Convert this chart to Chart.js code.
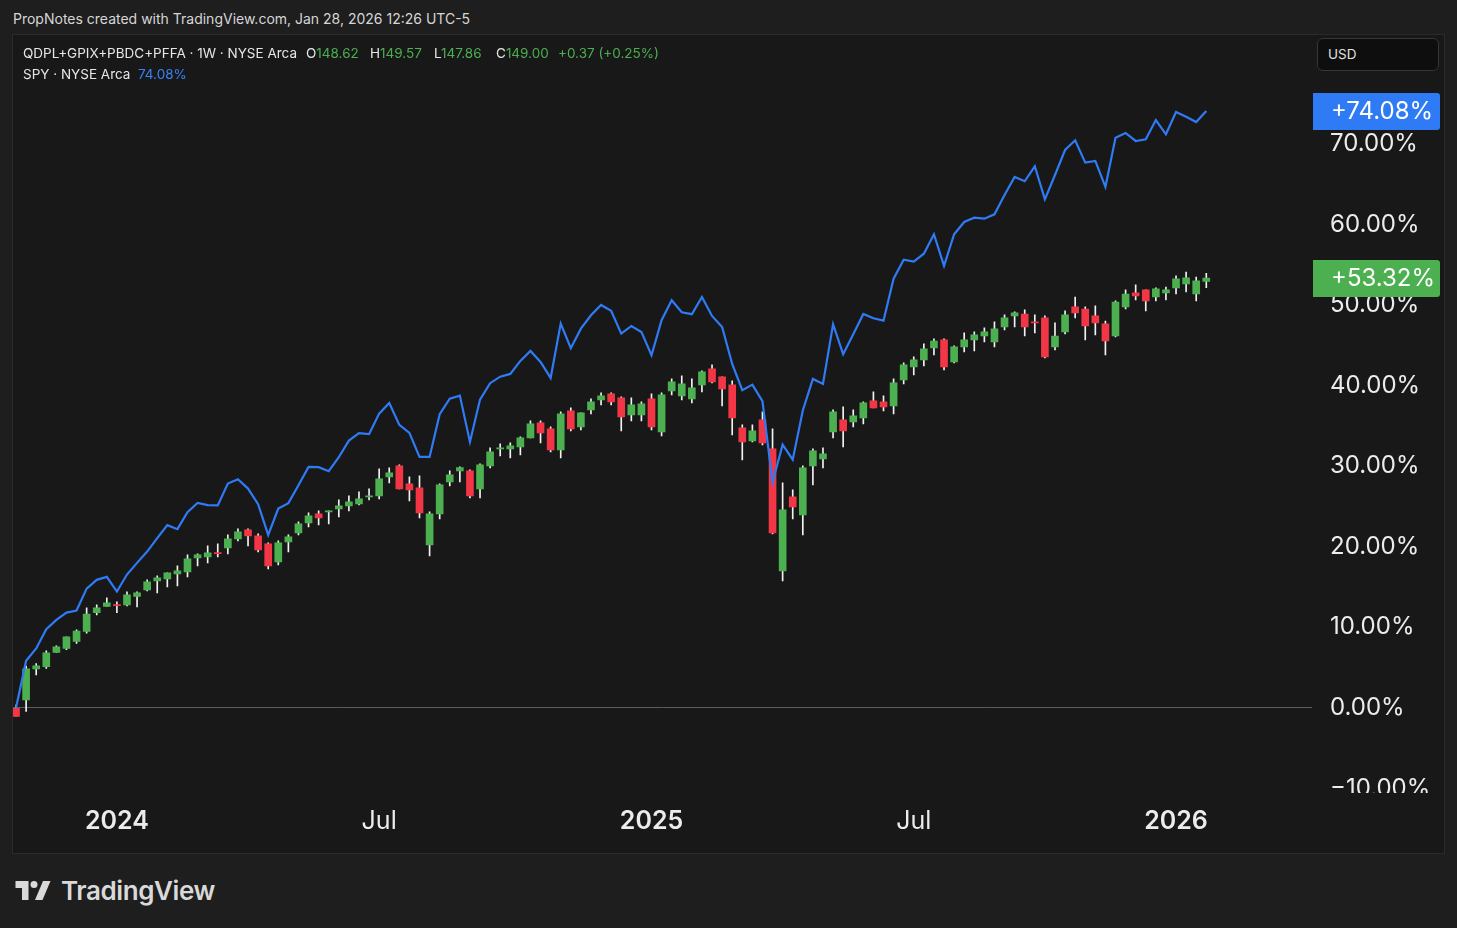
<!DOCTYPE html>
<html lang="en">
<head>
<meta charset="UTF-8">
<title>QDPL+GPIX+PBDC+PFFA vs SPY</title>
<style>
  html, body { margin: 0; padding: 0; width: 1457px; height: 928px; overflow: hidden; background: #1e1e1e; font-family: Inter, Roboto, sans-serif; }
  #caption { position: absolute; left: 13px; top: 10px; font-size: 14px; color: #d6d6d6; white-space: nowrap; }
  #frame { position: absolute; left: 12px; top: 34px; width: 1431px; height: 818px; background: #181818; border: 1px solid #2b2b2b; }
  #wrap { position: absolute; left: 13px; top: 35px; width: 1430px; height: 817px; }
  .lg { position: absolute; font-size: 13.5px; color: #e6e6e6; white-space: nowrap; line-height: 16px; }
  .g { color: #4caf50; }
  .b { color: #3a82f6; }
  #usd { position: absolute; left: 1317px; top: 38px; width: 122px; height: 33px; background: #0e0e0e; border: 1px solid #363636; border-radius: 6px; color: #e0e0e0; font-size: 13.5px; line-height: 31px; padding-left: 10px; box-sizing: border-box; }
  #brand { position: absolute; left: 15px; top: 876px; height: 28px; display: flex; align-items: center; color: #d9d9d9; font-size: 26px; font-weight: 600; letter-spacing: -0.4px; }
  #brand svg { margin-right: 9px; }
</style>
</head>
<body>
<script src="https://cdn.jsdelivr.net/npm/chart.js@4.4.0/dist/chart.umd.min.js"></script>

<div id="caption">PropNotes created with TradingView.com, Jan 28, 2026 12:26 UTC-5</div>
<div id="frame"></div>
<div id="wrap"><canvas id="chart" width="1430" height="817"></canvas></div>

<div class="lg" style="left:23px; top:45px;">QDPL+GPIX+PBDC+PFFA · 1W · NYSE Arca</div>
<div class="lg" style="left:306px; top:45px;">O<span class="g">148.62</span></div>
<div class="lg" style="left:370px; top:45px;">H<span class="g">149.57</span></div>
<div class="lg" style="left:434px; top:45px;">L<span class="g">147.86</span></div>
<div class="lg" style="left:496px; top:45px;">C<span class="g">149.00</span></div>
<div class="lg g" style="left:558px; top:45px;">+0.37 (+0.25%)</div>
<div class="lg" style="left:23px; top:66px;">SPY · NYSE Arca</div>
<div class="lg b" style="left:138px; top:66px;">74.08%</div>
<div id="usd">USD</div>

<div id="brand">
  <svg width="37" height="19" viewBox="0 0 36 19"><path d="M13 19H6.5V7H0V0h13z" fill="#d9d9d9"/><circle cx="18.5" cy="3.5" r="3.5" fill="#d9d9d9"/><path d="M27 19h-7.5L27.5 0H35z" fill="#d9d9d9"/></svg>
  TradingView
</div>

<script>
// weekly bars, QDPL+GPIX+PBDC+PFFA, % change from first bar (index 0 = late Oct 2023)
const opens = [0.00, 0.99, 4.84, 5.12, 6.86, 7.36, 8.23, 9.47, 11.82, 12.57,
  12.78, 12.78, 13.81, 14.64, 15.76, 16.00, 16.63, 16.87, 18.61, 18.73,
  19.27, 19.85, 20.97, 22.08, 21.34, 20.35, 18.11, 20.60, 21.71, 22.95,
  24.07, 24.32, 24.69, 25.06, 25.31, 26.18, 26.30, 28.66, 30.02, 27.79,
  27.30, 20.22, 24.07, 28.04, 29.40, 29.40, 27.17, 30.02, 32.13, 32.13,
  32.38, 33.50, 35.36, 34.62, 32.01, 36.85, 34.86, 36.97, 38.21, 38.96,
  38.46, 36.35, 36.35, 38.34, 34.24, 39.33, 38.71, 38.34, 40.07, 42.06,
  41.07, 40.07, 34.74, 33.13, 35.73, 32.13, 17.00, 26.18, 23.95, 30.02,
  30.89, 34.24, 35.73, 35.48, 35.98, 38.09, 37.97, 37.47, 40.69, 42.31,
  43.18, 44.67, 45.66, 42.93, 44.79, 45.66, 46.15, 45.41, 47.27, 48.64,
  48.88, 47.89, 48.39, 44.79, 46.65, 49.75, 49.50, 48.64, 47.64, 46.15,
  49.75, 51.49, 51.86, 50.99, 51.49, 52.11, 52.61, 51.36, 52.93];
const highs = [0.33, 5.17, 5.50, 7.07, 7.69, 8.81, 9.68, 12.41, 12.78, 13.65,
  13.15, 14.39, 14.39, 15.88, 16.38, 16.75, 17.62, 18.98, 19.11, 20.10,
  20.35, 21.46, 22.21, 22.21, 21.59, 20.47, 20.72, 21.46, 23.08, 24.19,
  24.44, 24.44, 25.81, 26.30, 26.80, 27.17, 29.65, 29.78, 30.15, 28.66,
  28.78, 24.32, 27.79, 29.40, 29.90, 29.53, 30.27, 32.26, 32.75, 32.88,
  33.62, 35.61, 35.61, 34.86, 36.72, 37.22, 36.60, 38.34, 39.08, 39.08,
  38.59, 38.46, 37.97, 38.96, 39.08, 40.82, 41.19, 40.82, 41.81, 42.56,
  41.07, 40.57, 35.11, 35.11, 36.72, 34.62, 27.92, 27.05, 30.02, 32.13,
  32.26, 36.97, 37.34, 36.97, 37.97, 39.21, 38.71, 40.82, 42.80, 43.55,
  45.16, 45.78, 45.78, 44.91, 46.53, 46.65, 47.15, 47.89, 48.76, 49.13,
  49.38, 48.76, 48.64, 47.77, 49.26, 50.99, 49.75, 49.88, 48.01, 50.50,
  51.86, 52.48, 51.86, 52.11, 52.23, 53.60, 54.09, 53.47, 53.91];
const lows = [-1.08, -0.46, 4.09, 4.88, 6.86, 7.23, 7.98, 9.27, 11.54, 12.57,
  11.82, 12.66, 12.53, 14.52, 14.27, 15.01, 15.14, 16.25, 17.62, 17.99,
  18.73, 19.11, 20.72, 20.10, 19.35, 17.25, 17.74, 19.35, 21.46, 22.46,
  22.70, 22.83, 23.70, 24.44, 25.19, 25.81, 25.93, 27.92, 27.17, 25.68,
  23.57, 18.86, 23.45, 27.54, 28.04, 26.05, 26.05, 29.78, 31.27, 31.02,
  31.39, 33.50, 32.88, 31.76, 31.02, 34.37, 34.49, 36.48, 37.59, 37.59,
  34.37, 35.61, 35.61, 34.49, 33.75, 38.83, 38.21, 37.84, 39.21, 40.32,
  37.47, 33.87, 30.77, 33.00, 32.63, 21.59, 15.76, 23.45, 21.46, 27.67,
  29.78, 33.50, 32.38, 34.86, 35.24, 37.22, 36.85, 36.48, 40.20, 41.32,
  42.43, 43.80, 41.94, 42.80, 44.17, 44.29, 45.41, 44.79, 46.90, 47.27,
  46.15, 46.53, 43.42, 44.42, 46.40, 48.39, 45.66, 46.28, 43.80, 46.03,
  49.50, 50.62, 49.26, 50.50, 50.62, 51.36, 51.61, 50.50, 52.15];
const closes = [-1.08, 4.84, 5.21, 6.82, 7.57, 8.81, 9.52, 11.63, 12.41, 13.03,
  12.69, 14.02, 14.27, 15.63, 16.13, 16.75, 17.00, 18.49, 18.98, 19.23,
  19.14, 20.97, 21.84, 21.34, 19.60, 17.62, 20.47, 21.22, 22.83, 23.82,
  23.57, 24.44, 25.06, 25.56, 25.93, 26.30, 28.41, 29.16, 27.17, 27.05,
  24.19, 24.07, 27.67, 28.91, 29.81, 26.30, 30.15, 31.76, 32.26, 32.51,
  33.50, 35.24, 34.12, 32.01, 36.48, 34.62, 36.60, 37.97, 38.71, 37.97,
  36.10, 37.59, 37.72, 34.86, 38.83, 40.45, 40.20, 39.70, 41.69, 40.45,
  39.58, 35.98, 33.00, 34.37, 32.88, 21.71, 24.57, 24.94, 29.78, 31.89,
  31.51, 36.72, 34.37, 36.23, 37.84, 37.22, 37.34, 40.32, 42.56, 43.18,
  44.54, 45.53, 42.31, 44.79, 45.66, 46.28, 46.65, 47.02, 48.39, 49.01,
  47.27, 47.77, 43.55, 46.15, 48.76, 49.01, 47.39, 47.77, 45.53, 50.37,
  51.36, 51.12, 50.50, 51.99, 51.86, 53.23, 53.35, 52.98, 53.32];
// SPY, % change, same weeks
const spy = [0.00, 5.83, 7.36, 9.76, 10.92, 11.82, 12.07, 14.80, 15.88, 16.25,
  14.43, 16.54, 17.99, 19.39, 21.05, 22.67, 22.17, 24.28, 25.43, 25.15,
  25.12, 27.83, 28.37, 27.21, 25.27, 21.46, 24.73, 25.40, 27.63, 29.90,
  29.86, 29.37, 31.10, 33.16, 34.08, 33.96, 36.51, 37.84, 35.11, 34.12,
  31.14, 31.14, 36.44, 38.37, 38.75, 33.00, 38.25, 40.29, 41.10, 41.44,
  43.05, 44.29, 42.93, 40.94, 47.68, 44.63, 47.06, 48.72, 50.00, 49.28,
  46.44, 47.39, 46.65, 43.76, 48.10, 50.58, 49.09, 48.85, 50.99, 48.64,
  47.27, 42.68, 39.42, 40.11, 38.05, 28.00, 32.66, 30.79, 36.90, 40.82,
  40.20, 47.61, 43.88, 46.36, 48.88, 48.35, 48.05, 53.25, 55.62, 55.37,
  56.36, 58.77, 54.84, 58.77, 60.30, 60.83, 60.71, 61.25, 63.65, 65.88,
  65.35, 67.21, 63.11, 66.13, 69.23, 70.43, 67.66, 67.87, 64.64, 70.76,
  71.34, 70.35, 70.56, 72.95, 71.18, 73.95, 73.36, 72.70, 74.08];

const xTickIndex = [10, 36, 63, 89, 115];
const xTickText = ['2024', 'Jul', '2025', 'Jul', '2026'];
const yTickValues = [-10, 0, 10, 20, 30, 40, 50, 60, 70];

const GREEN = '#4caf50';
const RED = '#f23645';
const BLUE = '#2f7bf5';
const PANE = '#181818';

Chart.defaults.font.family = 'Inter, Roboto, sans-serif';

const lastTags = {
  id: 'lastTags',
  afterDraw(chart) {
    const {ctx, chartArea, scales: {y}} = chart;
    ctx.save();
    // price scale labels are clipped at the pane bottom
    ctx.fillStyle = PANE;
    ctx.fillRect(chartArea.right, chartArea.bottom - 2, chart.width - chartArea.right, chart.height - chartArea.bottom + 2);
    const tags = [
      {value: spy[spy.length - 1], color: BLUE},
      {value: closes[closes.length - 1], color: GREEN}
    ];
    ctx.font = '24px Inter, Roboto, sans-serif';
    ctx.textBaseline = 'middle';
    tags.forEach(t => {
      const py = y.getPixelForValue(t.value);
      ctx.fillStyle = t.color;
      ctx.beginPath();
      ctx.roundRect(chartArea.right + 1, Math.round(py) - 18, 127, 37, [0, 3, 3, 0]);
      ctx.fill();
      ctx.fillStyle = '#ffffff';
      ctx.fillText('+' + t.value.toFixed(2) + '%', chartArea.right + 19, py + 1);
    });
    ctx.restore();
  }
};

new Chart(document.getElementById('chart'), {
  type: 'bar',
  data: {
    datasets: [
      {
        type: 'line',
        label: 'SPY',
        data: spy.map((v, i) => ({x: i, y: v})),
        borderColor: BLUE,
        borderWidth: 2.2,
        pointRadius: 0,
        tension: 0,
        order: 0
      },
      {
        label: 'body',
        data: opens.map((o, i) => ({x: i, y: [o, closes[i]]})),
        backgroundColor: closes.map((c, i) => c >= opens[i] ? GREEN : RED),
        barThickness: 7,
        minBarLength: 1,
        grouped: false,
        order: 1
      },
      {
        label: 'wick',
        data: lows.map((l, i) => ({x: i, y: [l, highs[i]]})),
        backgroundColor: '#f2f2f2',
        barThickness: 1,
        grouped: false,
        order: 2
      }
    ]
  },
  options: {
    responsive: false,
    animation: false,
    layout: {padding: 0},
    plugins: {legend: {display: false}, tooltip: {enabled: false}},
    scales: {
      x: {
        type: 'linear',
        min: -0.3,
        max: 128.48,
        offset: false,
        grid: {display: false},
        border: {display: false},
        afterBuildTicks: s => { s.ticks = xTickIndex.map(v => ({value: v})); },
        afterFit: s => { s.height = 57; },
        ticks: {
          autoSkip: false,
          maxRotation: 0,
          padding: 3,
          color: '#ececec',
          font: c => ({size: 25, weight: (c.tick && /^\d/.test(xTickText[xTickIndex.indexOf(c.tick.value)])) ? '600' : '400'}),
          callback: v => xTickText[xTickIndex.indexOf(v)]
        }
      },
      y: {
        position: 'right',
        min: -10.82,
        max: 79.48,
        afterBuildTicks: s => { s.ticks = yTickValues.map(v => ({value: v})); },
        afterFit: s => { s.width = 131; },
        grid: {
          drawTicks: false,
          color: c => (c.tick && c.tick.value === 0) ? '#5c5c5c' : 'rgba(0,0,0,0)'
        },
        border: {display: false},
        ticks: {
          padding: 18,
          color: '#ececec',
          font: {size: 24},
          callback: v => (v < 0 ? '\u2212' : '') + Math.abs(v).toFixed(2) + '%'
        }
      }
    }
  },
  plugins: [lastTags]
});
</script>
</body>
</html>
